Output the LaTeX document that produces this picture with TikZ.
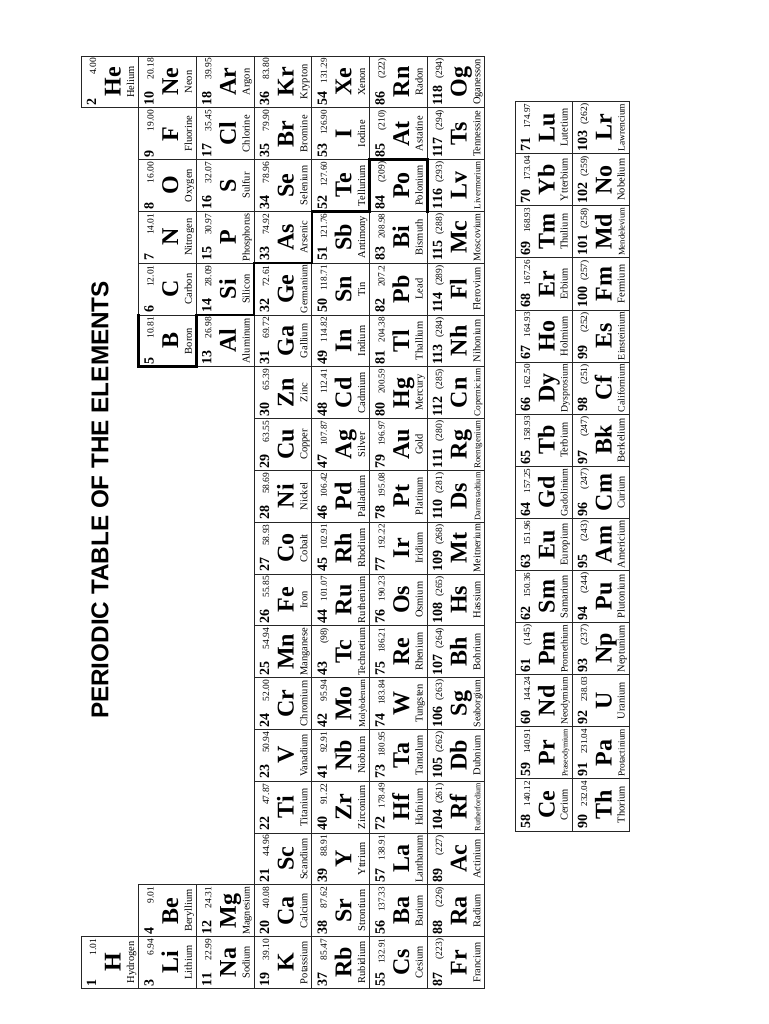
\documentclass[tikz,border=0pt]{standalone}
\usepackage{fontspec}
\setmainfont{Liberation Serif}
\newfontfamily\titlefont{Liberation Sans}
\usepackage{graphicx}
\newcommand\fitname[1]{\sbox0{#1}\ifdim\wd0>48pt\resizebox{48pt}{!}{#1}\else #1\fi}
\newcommand\fitmass[1]{\sbox0{#1}\ifdim\wd0>25pt\resizebox{25pt}{!}{#1}\else #1\fi}
\begin{document}
\begin{tikzpicture}[x=1pt,y=1pt,
  cellline/.style={draw=black!85,line width=0.9pt},
  thickline/.style={draw=black,line width=2.6pt,line cap=rect},
  numtxt/.style={rotate=90,inner sep=0pt,font=\fontsize{14}{14}\selectfont\bfseries},
  masstxt/.style={rotate=90,inner sep=0pt,font=\fontsize{9.5}{9.5}\selectfont},
  symtxt/.style={rotate=90,inner sep=0pt,font=\fontsize{24}{24}\selectfont\bfseries},
  nametxt/.style={rotate=90,inner sep=0pt,font=\fontsize{10.5}{10.5}\selectfont}]
\useasboundingbox (0,0) rectangle (768,1024);
\fill[white] (0,0) rectangle (768,1024);
\newcommand\Cell[8]{%
  \pgfmathsetmacro\cx{#1+#4}\pgfmathsetmacro\cy{#2+#3}%
  \draw[cellline] (#1,#2) rectangle (\cx,\cy);
  \node[numtxt,anchor=base west] (n#5) at ({#1+15},{#2+2}) {#5};
  \node[masstxt,anchor=base east] (m#5) at ({#1+15},{#2+#3-2}) {\fitmass{#6}};
  \node[symtxt,anchor=base] (s#5) at ({#1+39.5},{#2+#3/2}) {#7};
  \node[nametxt,anchor=base] (l#5) at ({#1+#4-4.5},{#2+#3/2}) {\fitname{#8}};
}
\newcommand\El[6]{\pgfmathsetmacro\ex{81+(#1-1)*57.7}\pgfmathsetmacro\ey{968-(19-#2)*51.8}\Cell{\ex}{\ey}{51.8}{57.7}{#3}{#4}{#5}{#6}}
\newcommand\Ln[6]{\pgfmathsetmacro\ex{515+(#1-1)*57}\pgfmathsetmacro\ey{193+(#2-1)*52.1}\Cell{\ex}{\ey}{52.1}{57}{#3}{#4}{#5}{#6}}
\node[rotate=90,inner sep=0pt,font=\titlefont] (title) at (100,524) {\resizebox{438pt}{!}{\textbf{PERIODIC TABLE OF THE ELEMENTS}}};
% period 1
\El{1}{1}{1}{1.01}{H}{Hydrogen}
\El{1}{18}{2}{4.00}{He}{Helium}
% period 2
\El{2}{1}{3}{6.94}{Li}{Lithium}
\El{2}{2}{4}{9.01}{Be}{Beryllium}
\El{2}{13}{5}{10.81}{B}{Boron}
\El{2}{14}{6}{12.01}{C}{Carbon}
\El{2}{15}{7}{14.01}{N}{Nitrogen}
\El{2}{16}{8}{16.00}{O}{Oxygen}
\El{2}{17}{9}{19.00}{F}{Fluorine}
\El{2}{18}{10}{20.18}{Ne}{Neon}
% period 3
\El{3}{1}{11}{22.99}{Na}{Sodium}
\El{3}{2}{12}{24.31}{Mg}{Magnesium}
\El{3}{13}{13}{26.98}{Al}{Aluminum}
\El{3}{14}{14}{28.09}{Si}{Silicon}
\El{3}{15}{15}{30.97}{P}{Phosphorus}
\El{3}{16}{16}{32.07}{S}{Sulfur}
\El{3}{17}{17}{35.45}{Cl}{Chlorine}
\El{3}{18}{18}{39.95}{Ar}{Argon}
% period 4
\El{4}{1}{19}{39.10}{K}{Potassium}
\El{4}{2}{20}{40.08}{Ca}{Calcium}
\El{4}{3}{21}{44.96}{Sc}{Scandium}
\El{4}{4}{22}{47.87}{Ti}{Titanium}
\El{4}{5}{23}{50.94}{V}{Vanadium}
\El{4}{6}{24}{52.00}{Cr}{Chromium}
\El{4}{7}{25}{54.94}{Mn}{Manganese}
\El{4}{8}{26}{55.85}{Fe}{Iron}
\El{4}{9}{27}{58.93}{Co}{Cobalt}
\El{4}{10}{28}{58.69}{Ni}{Nickel}
\El{4}{11}{29}{63.55}{Cu}{Copper}
\El{4}{12}{30}{65.39}{Zn}{Zinc}
\El{4}{13}{31}{69.72}{Ga}{Gallium}
\El{4}{14}{32}{72.61}{Ge}{Germanium}
\El{4}{15}{33}{74.92}{As}{Arsenic}
\El{4}{16}{34}{78.96}{Se}{Selenium}
\El{4}{17}{35}{79.90}{Br}{Bromine}
\El{4}{18}{36}{83.80}{Kr}{Krypton}
% period 5
\El{5}{1}{37}{85.47}{Rb}{Rubidium}
\El{5}{2}{38}{87.62}{Sr}{Strontium}
\El{5}{3}{39}{88.91}{Y}{Yttrium}
\El{5}{4}{40}{91.22}{Zr}{Zirconium}
\El{5}{5}{41}{92.91}{Nb}{Niobium}
\El{5}{6}{42}{95.94}{Mo}{Molybdenum}
\El{5}{7}{43}{(98)}{Tc}{Technetium}
\El{5}{8}{44}{101.07}{Ru}{Ruthenium}
\El{5}{9}{45}{102.91}{Rh}{Rhodium}
\El{5}{10}{46}{106.42}{Pd}{Palladium}
\El{5}{11}{47}{107.87}{Ag}{Silver}
\El{5}{12}{48}{112.41}{Cd}{Cadmium}
\El{5}{13}{49}{114.82}{In}{Indium}
\El{5}{14}{50}{118.71}{Sn}{Tin}
\El{5}{15}{51}{121.76}{Sb}{Antimony}
\El{5}{16}{52}{127.60}{Te}{Tellurium}
\El{5}{17}{53}{126.90}{I}{Iodine}
\El{5}{18}{54}{131.29}{Xe}{Xenon}
% period 6
\El{6}{1}{55}{132.91}{Cs}{Cesium}
\El{6}{2}{56}{137.33}{Ba}{Barium}
\El{6}{3}{57}{138.91}{La}{Lanthanum}
\El{6}{4}{72}{178.49}{Hf}{Hafnium}
\El{6}{5}{73}{180.95}{Ta}{Tantalum}
\El{6}{6}{74}{183.84}{W}{Tungsten}
\El{6}{7}{75}{186.21}{Re}{Rhenium}
\El{6}{8}{76}{190.23}{Os}{Osmium}
\El{6}{9}{77}{192.22}{Ir}{Iridium}
\El{6}{10}{78}{195.08}{Pt}{Platinum}
\El{6}{11}{79}{196.97}{Au}{Gold}
\El{6}{12}{80}{200.59}{Hg}{Mercury}
\El{6}{13}{81}{204.38}{Tl}{Thallium}
\El{6}{14}{82}{207.2}{Pb}{Lead}
\El{6}{15}{83}{208.98}{Bi}{Bismuth}
\El{6}{16}{84}{(209)}{Po}{Polonium}
\El{6}{17}{85}{(210)}{At}{Astatine}
\El{6}{18}{86}{(222)}{Rn}{Radon}
% period 7
\El{7}{1}{87}{(223)}{Fr}{Francium}
\El{7}{2}{88}{(226)}{Ra}{Radium}
\El{7}{3}{89}{(227)}{Ac}{Actinium}
\El{7}{4}{104}{(261)}{Rf}{Rutherfordium}
\El{7}{5}{105}{(262)}{Db}{Dubnium}
\El{7}{6}{106}{(263)}{Sg}{Seaborgium}
\El{7}{7}{107}{(264)}{Bh}{Bohrium}
\El{7}{8}{108}{(265)}{Hs}{Hassium}
\El{7}{9}{109}{(268)}{Mt}{Meitnerium}
\El{7}{10}{110}{(281)}{Ds}{Darmstadtium}
\El{7}{11}{111}{(280)}{Rg}{Roentgenium}
\El{7}{12}{112}{(285)}{Cn}{Copernicium}
\El{7}{13}{113}{(284)}{Nh}{Nihonium}
\El{7}{14}{114}{(289)}{Fl}{Flerovium}
\El{7}{15}{115}{(288)}{Mc}{Moscovium}
\El{7}{16}{116}{(293)}{Lv}{Livermorium}
\El{7}{17}{117}{(294)}{Ts}{Tennessine}
\El{7}{18}{118}{(294)}{Og}{Oganesson}
% lanthanides
\Ln{1}{1}{58}{140.12}{Ce}{Cerium}
\Ln{1}{2}{59}{140.91}{Pr}{Praseodymium}
\Ln{1}{3}{60}{144.24}{Nd}{Neodymium}
\Ln{1}{4}{61}{(145)}{Pm}{Promethium}
\Ln{1}{5}{62}{150.36}{Sm}{Samarium}
\Ln{1}{6}{63}{151.96}{Eu}{Europium}
\Ln{1}{7}{64}{157.25}{Gd}{Gadolinium}
\Ln{1}{8}{65}{158.93}{Tb}{Terbium}
\Ln{1}{9}{66}{162.50}{Dy}{Dysprosium}
\Ln{1}{10}{67}{164.93}{Ho}{Holmium}
\Ln{1}{11}{68}{167.26}{Er}{Erbium}
\Ln{1}{12}{69}{168.93}{Tm}{Thulium}
\Ln{1}{13}{70}{173.04}{Yb}{Ytterbium}
\Ln{1}{14}{71}{174.97}{Lu}{Lutetium}
% actinides
\Ln{2}{1}{90}{232.04}{Th}{Thorium}
\Ln{2}{2}{91}{231.04}{Pa}{Protactinium}
\Ln{2}{3}{92}{238.03}{U}{Uranium}
\Ln{2}{4}{93}{(237)}{Np}{Neptunium}
\Ln{2}{5}{94}{(244)}{Pu}{Plutonium}
\Ln{2}{6}{95}{(243)}{Am}{Americium}
\Ln{2}{7}{96}{(247)}{Cm}{Curium}
\Ln{2}{8}{97}{(247)}{Bk}{Berkelium}
\Ln{2}{9}{98}{(251)}{Cf}{Californium}
\Ln{2}{10}{99}{(252)}{Es}{Einsteinium}
\Ln{2}{11}{100}{(257)}{Fm}{Fermium}
\Ln{2}{12}{101}{(258)}{Md}{Mendelevium}
\Ln{2}{13}{102}{(259)}{No}{Nobelium}
\Ln{2}{14}{103}{(262)}{Lr}{Lawrencium}
% metalloid staircase
\coordinate (k1) at (138.7,709);
\coordinate (k2) at (138.7,657.2);
\coordinate (k3) at (196.4,657.2);
\coordinate (k4) at (196.4,709);
\coordinate (k5) at (254.1,709);
\coordinate (k6) at (254.1,760.8);
\coordinate (k7) at (311.8,760.8);
\coordinate (k8) at (311.8,812.6);
\coordinate (k9) at (369.5,812.6);
\coordinate (k10) at (369.5,864.4);
\coordinate (k11) at (427.2,864.4);
\coordinate (k12) at (427.2,812.6);
\draw[thickline] (k1)--(k2)--(k3)--(k4)--(k5)--(k6)--(k7)--(k8)--(k9)--(k10)--(k11)--(k12);
\end{tikzpicture}
\end{document}
